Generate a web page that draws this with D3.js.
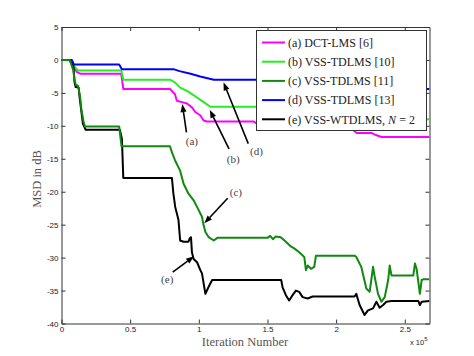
<!DOCTYPE html>
<html><head><meta charset="utf-8">
<script src="https://cdn.jsdelivr.net/npm/d3@7"></script>
<style>body{margin:0;background:#fff}svg{display:block}</style>
</head><body>
<svg id="chart" width="474" height="356"></svg>
<script>
// ---------- data (x = iteration number, y = MSD in dB) ----------
const xTicks = [0, 50000, 100000, 150000, 200000, 250000];
const xTickLabels = ["0", "0.5", "1", "1.5", "2", "2.5"];
const yTicks = [5, 0, -5, -10, -15, -20, -25, -30, -35, -40];
const yTickLabels = ["5", "0", "-5", "-10", "-15", "-20", "-25", "-30", "-35", "-40"];

const seriesNames = ["(a) DCT-LMS [6]", "(b) VSS-TDLMS [10]", "(c) VSS-TDLMS [11]", "(d) VSS-TDLMS [13]", "(e) VSS-WTDLMS, "];
const seriesColors = ["#ff00ff", "#22ee22", "#118811", "#0000ff", "#000000"];

const iterA = [0, 7000, 9000, 11000, 14000, 43500, 45000, 79000, 82600, 84000, 87700, 91400, 95000, 97400, 101000, 103500, 106000, 140000, 145000, 210000, 215000, 226000, 229000, 233000, 268000];
const msdA  = [0, 0, -1.0, -1.8, -2.1, -2.1, -4.4, -4.4, -5.2, -6.2, -6.4, -6.6, -7.2, -7.9, -8.4, -9.2, -9.35, -9.35, -10.0, -10.2, -11.1, -11.1, -11.4, -11.7, -11.7];

const iterB = [0, 7500, 9500, 12000, 43500, 45000, 79000, 82600, 86400, 91400, 95000, 98700, 103500, 108400, 230000, 236000, 240000, 268000];
const msdB  = [0, 0, -1.0, -1.6, -1.6, -3.0, -3.0, -3.4, -4.2, -4.7, -5.2, -5.7, -6.4, -7.1, -7.1, -8.3, -9.0, -9.0];

const iterC = [0, 6000, 8500, 9500, 10500, 12000, 13500, 14500, 16000, 17000, 42000, 43700, 79000, 80400, 82800, 86400, 88900, 92500, 96200, 98700, 102300, 103500, 104800, 107200, 110900, 113500, 150000, 152000, 154000, 156000, 159700, 163400, 167000, 169500, 173100, 176800, 178000, 179300, 181700, 184100, 185300, 213400, 214700, 218300, 222000, 224400, 225600, 226900, 228100, 230500, 233000, 235400, 237900, 239000, 240300, 256200, 257400, 258600, 261000, 262300, 263500, 268000];
const msdC  = [0, 0, -1.5, -3.0, -3.8, -3.9, -5.5, -7.5, -9.3, -10.1, -10.1, -13.1, -13.1, -14.0, -15.3, -16.8, -18.8, -20.3, -21.3, -22.3, -23.8, -25.1, -26.1, -26.9, -27.4, -27.0, -27.0, -26.7, -27.2, -26.8, -26.9, -27.6, -28.3, -28.6, -29.2, -29.9, -31.9, -31.2, -31.7, -31.4, -29.7, -29.7, -29.9, -31.4, -34.7, -35.2, -33.4, -31.4, -32.9, -35.5, -36.7, -36.0, -33.4, -31.2, -32.7, -32.7, -30.9, -31.7, -35.5, -33.4, -33.3, -33.3];

const iterD = [0, 7500, 9000, 42000, 44000, 81500, 86000, 94000, 101000, 111000, 238000, 242000, 245000, 268000];
const msdD  = [0, 0, -0.7, -0.7, -1.4, -1.4, -1.7, -2.1, -2.5, -3.0, -3.0, -3.9, -4.4, -4.4];

const iterE = [0, 5900, 8800, 9500, 10300, 12500, 13200, 14400, 15600, 17600, 42500, 44000, 45000, 80400, 81500, 82800, 85200, 86400, 88900, 92500, 93300, 94300, 95000, 96200, 98700, 101100, 102300, 104800, 107000, 109700, 160000, 161000, 163400, 165800, 168300, 170700, 173100, 175600, 179300, 182900, 213400, 214700, 217100, 220700, 223200, 226900, 229300, 231700, 234200, 236600, 240300, 259900, 261000, 262300, 268000];
const msdE  = [0, 0, -1.1, -3.4, -4.1, -4.2, -5.7, -7.7, -9.7, -10.6, -10.6, -12.0, -17.9, -17.9, -20.3, -22.3, -24.3, -27.4, -27.6, -27.6, -27.1, -26.9, -29.2, -30.2, -30.7, -31.9, -32.4, -35.5, -34.5, -33.4, -33.4, -34.5, -35.7, -36.5, -35.7, -35.0, -35.2, -36.0, -36.2, -35.9, -35.9, -35.5, -37.2, -38.7, -38.0, -37.7, -36.7, -37.6, -37.2, -36.7, -36.6, -36.6, -37.2, -36.7, -36.6];

const annotLabels = ["(a)", "(b)", "(d)", "(c)", "(e)"];
const annotX = [95000, 125000, 142000, 127000, 77000];   // label positions
const annotY = [-12.4, -15.0, -13.8, -20.0, -33.2];
const arrowFromX = [91000, 122000, 136000, 121000, 81000];
const arrowFromY = [-11.0, -13.5, -12.7, -21.0, -32.2];
const arrowToX = [88000, 108000, 118000, 104000, 96500];
const arrowToY = [-6.7, -7.6, -3.4, -24.8, -29.8];

// ---------- drawing ----------
const svg = d3.select("#chart");
const x = d3.scaleLinear().domain([0, 268000]).range([61.5, 429.5]);
const y = d3.scaleLinear().domain([-40, 5]).range([323.5, 27]);
const serif = "'Liberation Serif', 'DejaVu Serif', serif";
const sans = "'Liberation Sans', Arial, sans-serif";

svg.append("defs").append("clipPath").attr("id", "clip")
  .append("rect").attr("x", 61.5).attr("y", 27).attr("width", 368).attr("height", 296.5);

// axes with inward ticks
const axisColor = "#333";
const gBottom = svg.append("g").attr("transform", `translate(0,${y(-40)})`)
  .call(d3.axisBottom(x).tickValues(xTicks).tickSizeInner(-4).tickSizeOuter(0).tickPadding(3)
    .tickFormat((d, i) => xTickLabels[i]));
const gTop = svg.append("g").attr("transform", `translate(0,${y(5)})`)
  .call(d3.axisTop(x).tickValues(xTicks).tickSizeInner(-4).tickSizeOuter(0).tickFormat(""));
const gLeft = svg.append("g").attr("transform", `translate(${x(0)},0)`)
  .call(d3.axisLeft(y).tickValues(yTicks).tickSizeInner(-4).tickSizeOuter(0).tickPadding(3)
    .tickFormat((d, i) => yTickLabels[i]));
const gRight = svg.append("g").attr("transform", `translate(${x(268000)},0)`)
  .call(d3.axisRight(y).tickValues(yTicks).tickSizeInner(-4).tickSizeOuter(0).tickFormat(""));
[gBottom, gTop, gLeft, gRight].forEach(g => {
  g.select(".domain").attr("stroke", axisColor).attr("stroke-width", 1);
  g.selectAll(".tick line").attr("stroke", axisColor);
  g.selectAll(".tick text").attr("font-family", sans).attr("font-size", 8).attr("fill", "#222");
});

// lines
const line = d3.line().x(d => x(d[0])).y(d => y(d[1]));
const allSeries = [
  d3.zip(iterA, msdA), d3.zip(iterB, msdB), d3.zip(iterC, msdC), d3.zip(iterD, msdD), d3.zip(iterE, msdE)
];
const drawOrder = [0, 1, 3, 4, 2];
const plot = svg.append("g").attr("clip-path", "url(#clip)");
drawOrder.forEach(i => {
  plot.append("path").datum(allSeries[i]).attr("d", line)
    .attr("fill", "none").attr("stroke", seriesColors[i]).attr("stroke-width", 2)
    .attr("stroke-linejoin", "round");
});

// annotations
const ann = svg.append("g");
annotLabels.forEach((t, i) => {
  ann.append("text").attr("x", x(annotX[i])).attr("y", y(annotY[i])).attr("dy", "0.35em")
    .attr("text-anchor", "middle").attr("font-family", serif).attr("font-size", 11).attr("fill", "#444")
    .text(t);
  const x1 = x(arrowFromX[i]), y1 = y(arrowFromY[i]), x2 = x(arrowToX[i]), y2 = y(arrowToY[i]);
  const ang = Math.atan2(y2 - y1, x2 - x1);
  const L = 8, W = 3;
  const bx = x2 - L * Math.cos(ang), by = y2 - L * Math.sin(ang);
  ann.append("line").attr("x1", x1).attr("y1", y1).attr("x2", bx).attr("y2", by)
    .attr("stroke", "#000").attr("stroke-width", 1.6);
  ann.append("path").attr("d",
    `M${x2},${y2}L${bx + W * Math.sin(ang)},${by - W * Math.cos(ang)}L${bx - W * Math.sin(ang)},${by + W * Math.cos(ang)}Z`)
    .attr("fill", "#000");
});

// legend
const lg = svg.append("g");
lg.append("rect").attr("x", 256.5).attr("y", 30.5).attr("width", 170).attr("height", 100)
  .attr("fill", "#fff").attr("stroke", "#333").attr("stroke-width", 1);
seriesNames.forEach((n, i) => {
  const ly = 42.5 + i * 19.2;
  lg.append("line").attr("x1", 262).attr("x2", 285).attr("y1", ly).attr("y2", ly)
    .attr("stroke", seriesColors[i]).attr("stroke-width", 2);
  const t = lg.append("text").attr("x", 288).attr("y", ly).attr("dy", "0.35em")
    .attr("font-family", serif).attr("font-size", 12).attr("fill", "#222").text(n);
  if (i === 4) {
    t.append("tspan").attr("font-style", "italic").text("N");
    t.append("tspan").text(" = 2");
  }
});

// axis titles
svg.append("text").attr("x", 245).attr("y", 346).attr("text-anchor", "middle")
  .attr("font-family", serif).attr("font-size", 12.5).attr("fill", "#555").text("Iteration Number");
svg.append("text").attr("transform", "translate(41,179) rotate(-90)").attr("text-anchor", "middle")
  .attr("font-family", serif).attr("font-size", 12.5).attr("fill", "#555").text("MSD in dB");
const ex = svg.append("text").attr("x", 410).attr("y", 345).attr("font-family", sans)
  .attr("font-size", 7.5).attr("fill", "#222").text("x 10");
ex.append("tspan").attr("dy", -4).attr("font-size", 6).text("5");
</script>
</body></html>
